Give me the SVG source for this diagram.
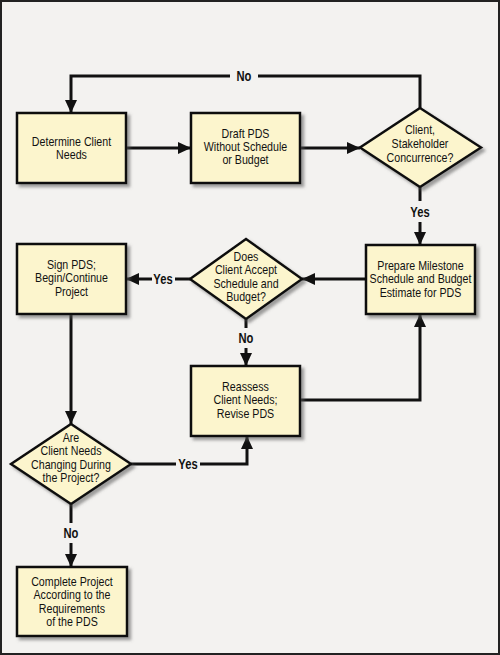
<svg xmlns="http://www.w3.org/2000/svg" width="500" height="655" viewBox="0 0 500 655">
<defs>
<style>
.box{fill:#fcf5cd;stroke:#111;stroke-width:2.5;filter:url(#sh)}
.t{font-family:"Liberation Sans",Arial,sans-serif;font-size:13px;fill:#111;text-anchor:middle}
.lbl{font-family:"Liberation Sans",Arial,sans-serif;font-size:14px;font-weight:bold;fill:#111;text-anchor:middle}
.c{fill:none;stroke:#111;stroke-width:3}
.gap{fill:#f3f2f0}
</style>
<filter id="sh" x="-10%" y="-10%" width="130%" height="130%">
<feDropShadow dx="3" dy="3" stdDeviation="1.5" flood-color="#555" flood-opacity="0.55"/>
</filter>
<marker id="ah" markerWidth="13" markerHeight="12" refX="13" refY="6" orient="auto" markerUnits="userSpaceOnUse">
<path d="M0,0 L13,6 L0,12 z" fill="#111"/>
</marker>
</defs>
<rect x="1" y="1" width="498" height="653" fill="#f3f2f0" stroke="#222" stroke-width="2"/>

<g id="connectors">
<path class="c" d="M420,108 V76 H71 V113" marker-end="url(#ah)"/>
<path class="c" d="M126,148 H191" marker-end="url(#ah)"/>
<path class="c" d="M300,148 H360" marker-end="url(#ah)"/>
<path class="c" d="M420,187 V245" marker-end="url(#ah)"/>
<path class="c" d="M366,279 H302" marker-end="url(#ah)"/>
<path class="c" d="M190,279 H126" marker-end="url(#ah)"/>
<path class="c" d="M246,319 V366" marker-end="url(#ah)"/>
<path class="c" d="M300,400 H420 V314" marker-end="url(#ah)"/>
<path class="c" d="M71,314 V424" marker-end="url(#ah)"/>
<path class="c" d="M131,464 H247 V436" marker-end="url(#ah)"/>
<path class="c" d="M71,504 V567" marker-end="url(#ah)"/>
<rect class="gap" x="230" y="66" width="28" height="20"/>
<rect class="gap" x="407" y="201" width="26" height="21"/>
<rect class="gap" x="152" y="270" width="23" height="18"/>
<rect class="gap" x="234" y="328" width="24" height="20"/>
<rect class="gap" x="176" y="455" width="24" height="18"/>
<rect class="gap" x="59" y="523" width="24" height="20"/>
<text class="lbl" x="244" y="81" transform="matrix(0.8 0 0 1 48.8 0)">No</text>
<text class="lbl" x="420" y="217" transform="matrix(0.8 0 0 1 84 0)">Yes</text>
<text class="lbl" x="163" y="284" transform="matrix(0.8 0 0 1 32.6 0)">Yes</text>
<text class="lbl" x="246" y="343" transform="matrix(0.8 0 0 1 49.2 0)">No</text>
<text class="lbl" x="188" y="469" transform="matrix(0.8 0 0 1 37.6 0)">Yes</text>
<text class="lbl" x="71" y="538" transform="matrix(0.8 0 0 1 14.2 0)">No</text>
</g>

<g id="determine">
<rect class="box" x="17" y="113" width="109" height="70"/>
<g transform="matrix(0.82 0 0 1 12.87 0)">
<text class="t" x="71.5" y="146">Determine Client</text>
<text class="t" x="71.5" y="159.5">Needs</text>
</g>
</g>
<g id="draft">
<rect class="box" x="191" y="113" width="109" height="70"/>
<g transform="matrix(0.82 0 0 1 44.19 0)">
<text class="t" x="245.5" y="138.5">Draft PDS</text>
<text class="t" x="245.5" y="151.5">Without Schedule</text>
<text class="t" x="245.5" y="164.5">or Budget</text>
</g>
</g>
<g id="concurrence">
<polygon class="box" points="420,108 481,147.5 420,187 360,147.5"/>
<g transform="matrix(0.82 0 0 1 75.6 0)">
<text class="t" x="420" y="134">Client,</text>
<text class="t" x="420" y="148">Stakeholder</text>
<text class="t" x="420" y="162">Concurrence?</text>
</g>
</g>
<g id="prepare">
<rect class="box" x="366" y="245" width="109" height="69"/>
<g transform="matrix(0.82 0 0 1 75.69 0)">
<text class="t" x="420.5" y="270">Prepare Milestone</text>
<text class="t" x="420.5" y="283.5">Schedule and Budget</text>
<text class="t" x="420.5" y="297">Estimate for PDS</text>
</g>
</g>
<g id="accept">
<polygon class="box" points="246,239 302,279 246,319 190,279"/>
<g transform="matrix(0.82 0 0 1 44.28 0)">
<text class="t" x="246" y="261">Does</text>
<text class="t" x="246" y="274.5">Client Accept</text>
<text class="t" x="246" y="288">Schedule and</text>
<text class="t" x="246" y="301.5">Budget?</text>
</g>
</g>
<g id="sign">
<rect class="box" x="17" y="244" width="109" height="70"/>
<g transform="matrix(0.82 0 0 1 12.87 0)">
<text class="t" x="71.5" y="269">Sign PDS;</text>
<text class="t" x="71.5" y="282.5">Begin/Continue</text>
<text class="t" x="71.5" y="296">Project</text>
</g>
</g>
<g id="reassess">
<rect class="box" x="191" y="366" width="109" height="70"/>
<g transform="matrix(0.82 0 0 1 44.19 0)">
<text class="t" x="245.5" y="391">Reassess</text>
<text class="t" x="245.5" y="404.5">Client Needs;</text>
<text class="t" x="245.5" y="418">Revise PDS</text>
</g>
</g>
<g id="changing">
<polygon class="box" points="71,424 131,464 71,504 11,464"/>
<g transform="matrix(0.82 0 0 1 12.78 0)">
<text class="t" x="71" y="442">Are</text>
<text class="t" x="71" y="455.5">Client Needs</text>
<text class="t" x="71" y="469">Changing During</text>
<text class="t" x="71" y="482.5">the Project?</text>
</g>
</g>
<g id="complete">
<rect class="box" x="17" y="567" width="110" height="69"/>
<g transform="matrix(0.82 0 0 1 12.96 0)">
<text class="t" x="72" y="586">Complete Project</text>
<text class="t" x="72" y="599.5">According to the</text>
<text class="t" x="72" y="613">Requirements</text>
<text class="t" x="72" y="626.5">of the PDS</text>
</g>
</g>
</svg>
